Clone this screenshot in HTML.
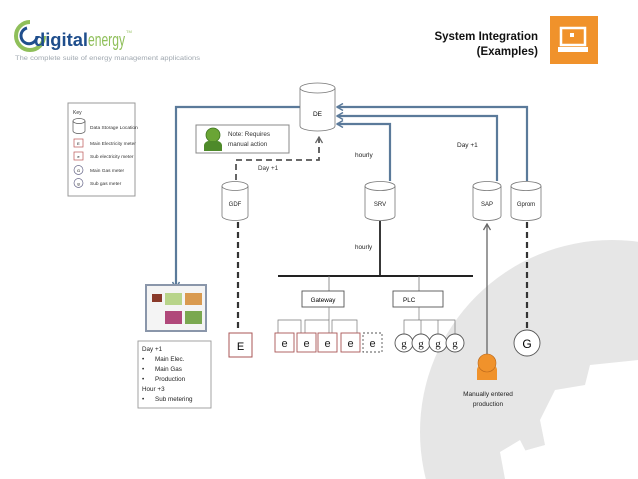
<!DOCTYPE html>
<html><head><meta charset="utf-8"><style>
html,body{margin:0;padding:0;background:#fff;width:638px;height:479px;overflow:hidden;}
svg{display:block;font-family:"Liberation Sans",sans-serif;}
</style></head><body>
<svg width="638" height="479" viewBox="0 0 638 479" xmlns="http://www.w3.org/2000/svg">
<defs>
<marker id="ab" markerWidth="8" markerHeight="8" refX="7" refY="4" orient="auto" markerUnits="userSpaceOnUse"><path d="M1,0.5 L7,4 L1,7.5" fill="none" stroke="#5b7a9a" stroke-width="1.5"/></marker>
<marker id="ag" markerWidth="8" markerHeight="8" refX="7" refY="4" orient="auto" markerUnits="userSpaceOnUse"><path d="M1,0.5 L7,4 L1,7.5" fill="none" stroke="#666" stroke-width="1.3"/></marker>
</defs>
<!-- gray background circle -->
<circle cx="612" cy="432" r="192" fill="#e6e6e6"/>
<path d="M638,360 L590,365 L585,385 L555,390 L540,420 L545,445 L520,452 L530,479 L638,479 Z" fill="#fff"/>
<path d="M500,452 L520,440 L540,479 L505,479 Z" fill="#fff"/>
<!-- logo -->
<path d="M30,22 A14,14 0 1 0 44,36" fill="none" stroke="#8fbf5a" stroke-width="4"/>
<path d="M27,28 A8,8 0 1 0 37,36" fill="none" stroke="#1f4e8c" stroke-width="3"/>
<text x="34" y="46" font-size="18" font-weight="bold" fill="#1f4e8c" textLength="54" lengthAdjust="spacingAndGlyphs">digital</text>
<text x="88" y="46" font-size="18" fill="#8fbf5a" textLength="37" lengthAdjust="spacingAndGlyphs">energy</text>
<text x="126" y="33" font-size="4" fill="#8fbf5a">TM</text>
<text x="15" y="60" font-size="6.3" fill="#a0a8b0" textLength="185" lengthAdjust="spacingAndGlyphs">The complete suite of energy management applications</text>
<!-- title -->
<text x="538" y="40" font-size="11.5" font-weight="bold" text-anchor="end" fill="#111">System Integration</text>
<text x="538" y="55" font-size="11.5" font-weight="bold" text-anchor="end" fill="#111">(Examples)</text>
<rect x="550" y="16" width="48" height="48" fill="#f0922b"/>
<rect x="561" y="28" width="24" height="17" fill="none" stroke="#fff" stroke-width="2.5"/>
<rect x="558" y="47" width="30" height="5" fill="#fff"/>
<rect x="570" y="33" width="4" height="4" fill="#fff"/>
<!-- key box -->
<rect x="68" y="103" width="67" height="93" fill="#fff" stroke="#999" stroke-width="1"/>
<text x="73" y="114" font-size="5" fill="#333">Key</text>
<path d="M73,121 v10 a6,2.5 0 0 0 12,0 v-10" fill="#fff" stroke="#555" stroke-width="0.7"/>
<ellipse cx="79" cy="121" rx="6" ry="2.5" fill="#fff" stroke="#555" stroke-width="0.7"/>
<text x="90" y="129" font-size="4.8" fill="#333">Data Storage Location</text>
<rect x="74" y="139" width="9" height="8" fill="#fff" stroke="#b55" stroke-width="0.7"/><text x="78.5" y="145" font-size="4" text-anchor="middle">E</text>
<text x="90" y="145" font-size="4.8" fill="#333">Main Electricity meter</text>
<rect x="74" y="152" width="9" height="8" fill="#fff" stroke="#b55" stroke-width="0.7"/><text x="78.5" y="158" font-size="4" text-anchor="middle">e</text>
<text x="90" y="158" font-size="4.8" fill="#333">Sub electricity meter</text>
<circle cx="78.5" cy="170" r="4.5" fill="#fff" stroke="#668" stroke-width="0.7"/><text x="78.5" y="172" font-size="4" text-anchor="middle">G</text>
<text x="90" y="172" font-size="4.8" fill="#333">Main Gas meter</text>
<circle cx="78.5" cy="183" r="4.5" fill="#fff" stroke="#668" stroke-width="0.7"/><text x="78.5" y="185" font-size="4" text-anchor="middle">g</text>
<text x="90" y="185" font-size="4.8" fill="#333">Sub gas meter</text>
<!-- blue connectors -->
<g fill="none" stroke="#5b7a9a" stroke-width="2.2">
<path d="M300,107 H176 V288" marker-end="url(#ab)"/>
<path d="M527,181 V107 H337" marker-end="url(#ab)"/>
<path d="M497,181 V116 H337" marker-end="url(#ab)"/>
<path d="M390,181 V124 H337" marker-end="url(#ab)"/>
</g>
<text x="355" y="157" font-size="6.5" fill="#222">hourly</text>
<text x="457" y="147" font-size="6.5" fill="#222">Day +1</text>
<!-- DE cylinder -->
<path d="M300,88 v38 a17.5,5 0 0 0 35,0 v-38" fill="#fff" stroke="#777" stroke-width="0.8"/>
<ellipse cx="317.5" cy="88" rx="17.5" ry="5" fill="#fff" stroke="#777" stroke-width="0.8"/>
<text x="317.5" y="116" font-size="6.5" text-anchor="middle">DE</text>
<!-- note box -->
<rect x="196" y="125" width="93" height="28" fill="#fff" stroke="#888" stroke-width="1"/>
<circle cx="213" cy="135" r="7" fill="#6aa535" stroke="#3e7520" stroke-width="0.8"/>
<path d="M204,151 v-6 a5,5 0 0 1 5,-4 h8 a5,5 0 0 1 5,4 v6 z" fill="#4e8a2a"/>
<text x="228" y="136" font-size="6.3" fill="#333">Note: Requires</text>
<text x="228" y="146" font-size="6.3" fill="#333">manual action</text>
<!-- dashed GDF -->
<path d="M236,180 V160 H319 V137" fill="none" stroke="#555" stroke-width="1.8" stroke-dasharray="6,4" marker-end="url(#ag)"/>
<text x="258" y="170" font-size="6.3" fill="#333">Day +1</text>
<!-- cylinders -->
<g fill="#fff" stroke="#777" stroke-width="0.8">
<path d="M222,186 v30 a13,4.5 0 0 0 26,0 v-30"/><ellipse cx="235" cy="186" rx="13" ry="4.5"/>
<path d="M365,186 v30 a15,4.5 0 0 0 30,0 v-30"/><ellipse cx="380" cy="186" rx="15" ry="4.5"/>
<path d="M473,186 v30 a14,4.5 0 0 0 28,0 v-30"/><ellipse cx="487" cy="186" rx="14" ry="4.5"/>
<path d="M511,186 v30 a15,4.5 0 0 0 30,0 v-30"/><ellipse cx="526" cy="186" rx="15" ry="4.5"/>
</g>
<g font-size="6" text-anchor="middle" fill="#222">
<text x="235" y="206">GDF</text><text x="380" y="206">SRV</text><text x="487" y="206">SAP</text><text x="526" y="206">Gprom</text>
</g>
<!-- GDF to E -->
<path d="M238,222 V332" stroke="#333" stroke-width="2.2" stroke-dasharray="6,4"/>
<rect x="229" y="333" width="23" height="24" fill="#fff" stroke="#a55" stroke-width="1"/>
<text x="240.5" y="350" font-size="11" text-anchor="middle">E</text>
<!-- SRV bus -->
<path d="M380,221 V276" stroke="#222" stroke-width="1.8"/>
<text x="355" y="249" font-size="6.3" fill="#222">hourly</text>
<path d="M278,276 H473" stroke="#222" stroke-width="2"/>
<path d="M329,276 V291 M419,276 V291" stroke="#777" stroke-width="0.8"/>
<rect x="302" y="291" width="42" height="16" fill="#fff" stroke="#555" stroke-width="0.9"/>
<text x="323" y="302" font-size="6.3" text-anchor="middle">Gateway</text>
<rect x="393" y="291" width="50" height="16" fill="#fff" stroke="#555" stroke-width="0.9"/>
<text x="403" y="302" font-size="6.3">PLC</text>
<!-- gateway brackets -->
<g fill="none" stroke="#777" stroke-width="0.7">
<path d="M329,307 V320"/>
<path d="M278,333 V320 H301 V333"/><path d="M305,333 V320 H329 V333"/><path d="M332,333 V320 H357 V333"/>
<path d="M419,307 V320"/><path d="M404,334 V320 H455 V334"/><path d="M421,320 V334 M438,320 V334"/>
</g>
<g fill="#fff" stroke="#a55" stroke-width="0.9">
<rect x="275" y="333" width="19" height="19"/><rect x="297" y="333" width="19" height="19"/><rect x="318" y="333" width="19" height="19"/><rect x="341" y="333" width="19" height="19"/>
</g>
<rect x="363" y="333" width="19" height="19" fill="#fff" stroke="#555" stroke-width="0.9" stroke-dasharray="2,2"/>
<g font-size="11" text-anchor="middle" fill="#222">
<text x="284.5" y="347">e</text><text x="306.5" y="347">e</text><text x="327.5" y="347">e</text><text x="350.5" y="347">e</text><text x="372.5" y="347">e</text>
</g>
<g fill="#fff" stroke="#555" stroke-width="0.9">
<circle cx="404" cy="343" r="9"/><circle cx="421" cy="343" r="9"/><circle cx="438" cy="343" r="9"/><circle cx="455" cy="343" r="9"/>
</g>
<g font-size="11" text-anchor="middle" fill="#222" font-family="Liberation Serif,serif">
<text x="404" y="347">g</text><text x="421" y="347">g</text><text x="438" y="347">g</text><text x="455" y="347">g</text>
</g>
<!-- SAP arrow -->
<path d="M487,360 V224" stroke="#666" stroke-width="1.3" fill="none" marker-end="url(#ag)"/>
<path d="M477,380 v-10 a7,6 0 0 1 7,-6 h6 a7,6 0 0 1 7,6 v10 z" fill="#f0922b"/>
<circle cx="487" cy="363" r="9" fill="#f0922b" stroke="#b8661a" stroke-width="0.6"/>
<text x="488" y="396" font-size="6.5" text-anchor="middle" fill="#222">Manually entered</text>
<text x="488" y="406" font-size="6.5" text-anchor="middle" fill="#222">production</text>
<!-- Gprom to G -->
<path d="M527,222 V330" stroke="#333" stroke-width="2.2" stroke-dasharray="6,4"/>
<circle cx="527" cy="343" r="13" fill="#fff" stroke="#555" stroke-width="0.9"/>
<text x="527" y="348" font-size="12" text-anchor="middle">G</text>
<!-- screenshot thumbnail -->
<rect x="146" y="285" width="60" height="46" fill="#f4f4f4" stroke="#8a96aa" stroke-width="2"/>
<rect x="152" y="294" width="10" height="8" fill="#8a3a2a"/>
<rect x="165" y="293" width="17" height="12" fill="#b8d48a"/><rect x="185" y="293" width="17" height="12" fill="#d99a50"/>
<rect x="165" y="311" width="17" height="13" fill="#b0487a"/><rect x="185" y="311" width="17" height="13" fill="#7aa850"/>
<!-- text box -->
<rect x="138" y="341" width="73" height="67" fill="#fff" stroke="#999" stroke-width="0.9"/>
<g font-size="6.3" fill="#222">
<text x="142" y="351">Day +1</text>
<text x="142" y="361">•</text><text x="155" y="361">Main Elec.</text>
<text x="142" y="371">•</text><text x="155" y="371">Main Gas</text>
<text x="142" y="381">•</text><text x="155" y="381">Production</text>
<text x="142" y="391">Hour +3</text>
<text x="142" y="401">•</text><text x="155" y="401">Sub metering</text>
</g>
</svg>
</body></html>
